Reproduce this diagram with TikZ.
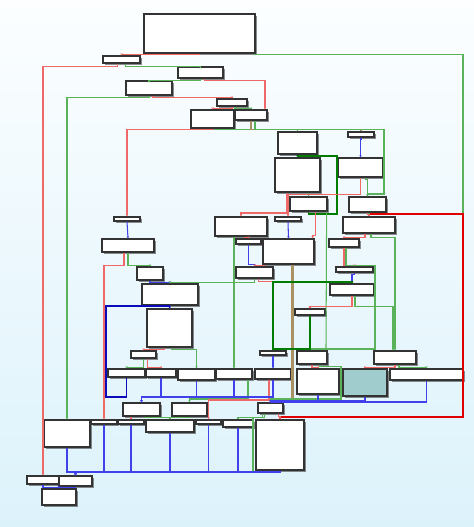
\documentclass[tikz,border=0pt]{standalone}
\usepackage{tikz}
\usetikzlibrary{arrows.meta,fit,calc,shadows}
\definecolor{bgtop}{RGB}{252,254,255}
\definecolor{bgbot}{RGB}{220,242,251}
\definecolor{ered}{RGB}{240,105,105}
\definecolor{egreen}{RGB}{90,178,90}
\definecolor{eblue}{RGB}{65,65,235}
\definecolor{dkgreen}{RGB}{0,125,0}
\definecolor{dkred}{RGB}{225,0,0}
\definecolor{dkblue}{RGB}{10,10,185}
\definecolor{olive}{RGB}{170,145,100}
\definecolor{tealbox}{RGB}{160,204,206}
\tikzset{
  >={Stealth[length=3pt,width=3.4pt]}, % small arrow heads as in the graph view
  blk/.style={draw=black!80, line width=1.8pt, fill=white, inner sep=0pt,
    drop shadow={shadow xshift=3pt, shadow yshift=-3pt, fill=black!75, opacity=0.6}},
  edge/.style={->, line width=1.5pt},
  rd/.style={edge, ered},
  gn/.style={edge, egreen},
  bl/.style={edge, eblue},
  ol/.style={edge, olive, line width=3pt},
  dgn/.style={edge, dkgreen, line width=2.6pt},
  drd/.style={edge, dkred, line width=2.6pt},
  dbl/.style={edge, dkblue, line width=2.6pt}
}
\newcommand{\blk}[6][]{\node[blk,#1,fit={(#3,#4) (#5,#6)}] (#2) {};}

\begin{document}
\begin{tikzpicture}[x=0.5mm, y=-0.5mm]
    \fill[top color=bgtop, bottom color=bgbot] (0,0) rectangle (474,527);
    \useasboundingbox (0,0) rectangle (474,527);
    % blocks
    \blk{n0}{144}{14}{255}{53}
    \blk{n1}{103}{56}{140}{63}
    \blk{n2}{178}{67}{223}{78}
    \blk{n3}{126}{81}{172}{95}
    \blk{n4}{217}{99}{247}{106}
    \blk{n5}{191}{110}{234}{128}
    \blk{n6}{235}{110}{267}{120}
    \blk{n7}{278}{132}{317}{154}
    \blk{n8}{348}{132}{374}{137}
    \blk{n9}{275}{158}{320}{192}
    \blk{n10}{338}{158}{383}{177}
    \blk{n11}{290}{197}{327}{211}
    \blk{n12}{349}{197}{386}{212}
    \blk{n13}{114}{217}{140}{221}
    \blk{n14}{215}{217}{267}{236}
    \blk{n15}{275}{217}{301}{221}
    \blk{n16}{343}{217}{395}{233}
    \blk{n17}{102}{239}{154}{252}
    \blk{n18}{236}{239}{261}{244}
    \blk{n19}{263}{239}{314}{264}
    \blk{n20}{329}{239}{359}{247}
    \blk{n21}{137}{267}{163}{280}
    \blk{n22}{236}{267}{273}{278}
    \blk{n23}{336}{267}{373}{272}
    \blk{n24}{142}{284}{198}{305}
    \blk{n25}{330}{284}{374}{295}
    \blk{n26}{147}{309}{192}{347}
    \blk{n27}{295}{309}{325}{315}
    \blk{n28}{131}{351}{156}{358}
    \blk{n29}{260}{351}{286}{355}
    \blk{n30}{297}{351}{327}{364}
    \blk{n31}{374}{351}{416}{364}
    \blk{n32}{108}{369}{145}{377}
    \blk{n33}{146}{369}{176}{377}
    \blk{n34}{178}{369}{215}{380}
    \blk{n35}{216}{369}{252}{379}
    \blk{n36}{255}{369}{291}{379}
    \blk{n37}{297}{369}{339}{394}
    \blk[fill=tealbox]{n38}{343}{369}{387}{396}
    \blk{n39}{390}{369}{463}{380}
    \blk{n40}{123}{403}{160}{416}
    \blk{n41}{172}{403}{207}{416}
    \blk{n42}{258}{403}{283}{413}
    \blk{n43}{44}{420}{90}{447}
    \blk{n44}{91}{420}{117}{424}
    \blk{n45}{118}{420}{144}{424}
    \blk{n46}{146}{420}{194}{432}
    \blk{n47}{196}{420}{221}{424}
    \blk{n48}{223}{420}{253}{427}
    \blk{n49}{256}{420}{304}{470}
    \blk{n50}{27}{476}{59}{484}
    \blk{n51}{59}{476}{92}{486}
    \blk{n52}{42}{489}{76}{505}
    % upper part
    \draw[rd] (n0.south) -- ++(0,1) -| (n1.north);
    \draw[gn] (n0.south) ++(54,0) -- ++(0,1) -| (463,214) -| (n16.north);
    \draw[rd] (n1.south) ++(-4,0) -- ++(0,3) -| (n50.north);
    \draw[gn] (n1.south) ++(4,0) -- ++(0,3) -| (n2.north);
    \draw[gn] (n2.south) -- ++(0,2) -| (n3.north);
    \draw[rd] (n2.south) ++(4,0) -- ++(0,2) -| ($(n6.north)+(14,0)$);
    \draw[gn] (n3.south) -- ++(0,2) -| (n43.north);
    \draw[rd] (n3.south) ++(4,0) -- ++(0,2) -| (n4.north);
    \draw[rd] (n4.south) -- ++(0,2) -| (n5.north);
    \draw[gn] (n4.south) ++(3,0) -- ++(0,2) -| (n6.north);
    \draw[rd] (n5.south) -- ++(0,1) -| (n13.north);
    \draw[gn] (n5.south) ++(3,0) -- ++(0,1) -| (n7.north);
    \draw[ol, line width=1.6pt] (n6.south) -- ++(0,9) -| (n8.north);
    \draw[gn] (n6.south) ++(4,0) -- ++(0,9) -| (384,194) -| (n12.north);
    \draw[bl] (n7.south) -- (n9.north);
    \draw[bl] (n8.south) -- ++(0,2) -| (n10.north);
    \draw[dgn] (n11.south) -- ++(0,2) -| (337,156) -| (n9.north);
    \draw[gn] (n9.south) ++(10,0) -- ++(0,2) -| (n11.north);
    \draw[rd] (n9.south) ++(-10,0) -- ++(0,2) -| (n15.north);
    \draw[rd] (n10.south) -- ++(0,17) -| (287,213) -| (n14.north);
    \draw[gn] (n10.south) ++(5,0) -- ++(0,2) -| (n12.north);
    \draw[rd] (n11.south) ++(7,0) |- ($(n19.north east)+(-2,-3)$) -- ($(n19.north east)+(-2,0)$);
    \draw[gn] (n11.south east) ++(-1,0) -- (326,349) -| (n30.north);
    \draw[rd] (n12.south) -- ++(0,2) -| (n16.north);
    \draw[drd] (n12.south) ++(3,0) -- ++(0,1) -| (463,417) -| (n49.north);
    % middle part
    \draw[bl] (n13.south) -- (n17.north);
    \draw[rd] (n14.south) ++(4,0) -- ++(0,1) -| (n18.north);
    \draw[gn] (n14.south) ++(-7,0) -- (n35.north);
    \draw[bl] (n15.south) -- (n19.north);
    \draw[rd] (n16.south) ++(-4,0) -- ++(0,4) -| (n20.north);
    \draw[gn] (n16.south) ++(2,0) -- ++(0,4) -| (n31.north);
    \draw[rd] (n17.south) ++(-4,0) -- ++(0,13) -| (n44.north);
    \draw[gn] (n17.south) -- ++(0,13) -| (n21.north);
    \draw[bl] (n18.south) -- ++(0,20) -| (n22.north);
    \draw[rd] (n19.south) ++(-24,0) -- ++(0,1) -| (n22.north);
    \draw[ol] (n19.south) ++(4,0) -- (292.5,400) -| (n42.north);
    \draw[rd] (n20.south) -- ++(0,18) -| (n23.north);
    \draw[gn] (n20.south) ++(2,0) -- ++(0,18) -| (375,349) -| (n30.north);
    \draw[bl] (n21.south) -- ++(0,2) -| (n24.north);
    \draw[gn] (n22.south) -- ++(0,4) -| (n24.north);
    \draw[rd] (n22.south) ++(4,0) -- ++(0,3) -| (n29.north);
    \draw[bl] (n23.south) -- ++(0,2) -| (n25.north);
    \draw[rd] (n25.south) -- ++(0,11) -| (n27.north);
    \draw[gn] (n25.south) ++(3,0) -- ++(0,11) -| ($(n31.north)+(-2,0)$);
    \draw[dgn] (n27.south) -- (310,349) -| (273,282) -| (n25.north);
    \draw[bl] (n24.south) -- (n26.north);
    \draw[dbl] (n32.south) -- (126.5,397) -| (106,306) -| (n26.north);
    \draw[rd] (n26.south) ++(-5,0) -- ++(0,2) -| (n28.north);
    \draw[gn] (n26.south) ++(2,0) -- ++(0,2) -| (n34.north);
    \draw[gn] (n28.south) -- ++(0,9) -| (n32.north);
    \draw[rd] (n28.south) ++(4,0) -- ++(0,9) -| (n33.north);
    \draw[bl] (n29.south) -- (n36.north);
    \draw[rd] (n30.south) -- ++(0,3) -| (n37.north);
    \draw[gn] (n30.south) ++(8,0) -- ++(0,2) -| (341,399) -| (n42.north);
    \draw[rd] (n31.south) -- ++(0,3) -| (n38.north);
    \draw[gn] (n31.south) ++(4,0) -- ++(0,3) -| (n39.north);
    % joins above the lower rows
    \draw[gn] (n35.south) ++(14,0) -- (248,399) -| (n41.north);
    \draw[rd] (n36.south) ++(-4,0) -- (269,400) -| (n47.north);
    \draw[bl] (n33.south) -- (161,397) -| (n40.north);
    \draw[bl] (n34.south) -- (196.5,397) -| (n40.north);
    \draw[bl] (n35.south) -- (234,397) -| (n40.north);
    \draw[bl] (n36.south) -- (273,397) -| (n40.north);
    \draw[bl] (n37.south) -- (318,401) -| (n42.north);
    \draw[bl] (n38.south) -- (365,401) -| (n42.north);
    \draw[bl] (n39.south) -- (426.5,402) -| (n42.north);
    % lower part
    \draw[rd] (n40.south) ++(-10,0) -- ++(0,1) -| (n45.north);
    \draw[gn] (n40.south) ++(3,0) -- ++(0,1) -| (n46.north);
    \draw[gn] (n41.south) -- ++(0,1) -| (n46.north);
    \draw[gn] (n42.south) ++(-6,0) -- ++(0,4) -| (n48.north);
    \draw[gn] (n42.south) ++(-8,0) -- ++(0,4) -| (253,472) -| (n51.north);
    \draw[rd] (n42.south) ++(8,0) -- ++(0,3) -| (n49.north);
    \foreach \b in {n43,n44,n45,n46,n47,n48,n49}
        \draw[bl] (\b.south) -- (\b.south |- 0,472) -| (n51.north);
    \draw[bl] (n50.south) -- ++(0,3) -| (n52.north);
    \draw[bl] (n51.south) -- ++(0,1) -| (n52.north);
\end{tikzpicture}
\end{document}
